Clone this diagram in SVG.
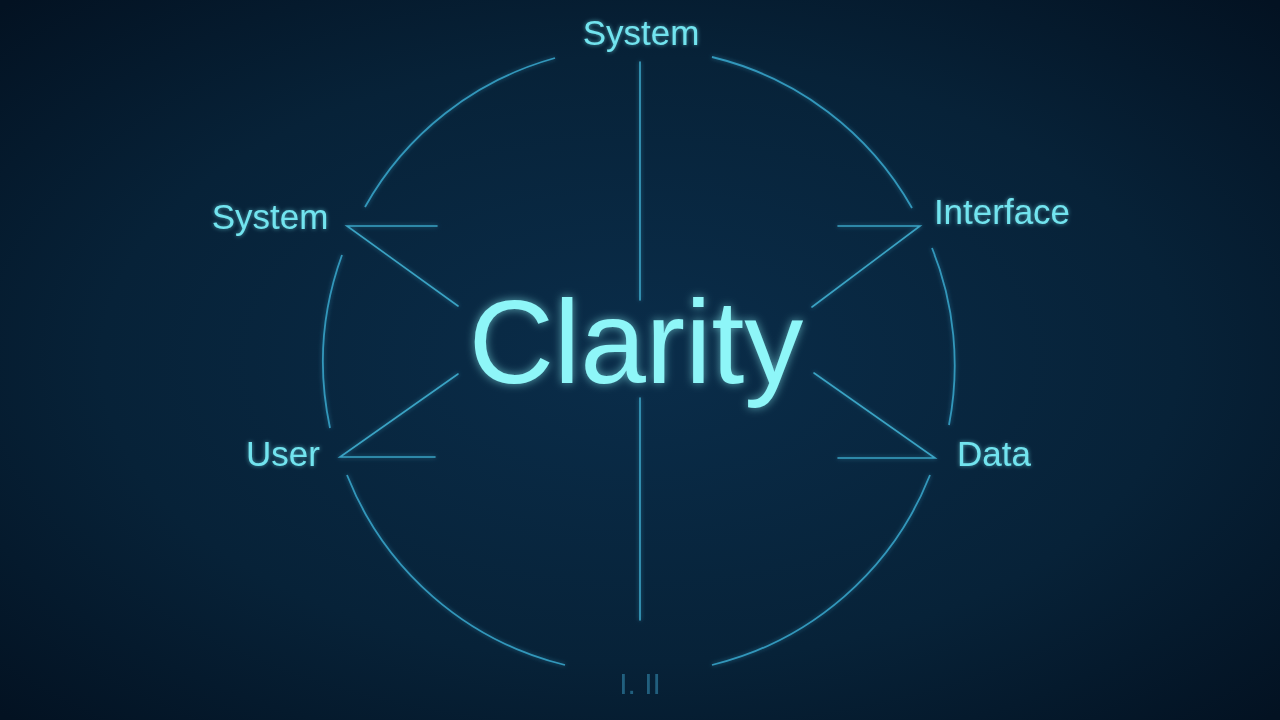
<svg xmlns="http://www.w3.org/2000/svg" width="1280" height="720" viewBox="0 0 1280 720">
<defs>
<radialGradient id="bg" cx="50%" cy="50%" r="70%">
<stop offset="0" stop-color="#0a2d4a"/>
<stop offset="0.6" stop-color="#072238"/>
<stop offset="1" stop-color="#031222"/>
</radialGradient>
<filter id="glow" x="-20%" y="-40%" width="140%" height="180%">
<feGaussianBlur in="SourceGraphic" stdDeviation="5" result="b"/>
<feComponentTransfer in="b" result="b2"><feFuncA type="linear" slope="0.6"/></feComponentTransfer>
<feMerge><feMergeNode in="b2"/><feMergeNode in="SourceGraphic"/></feMerge>
</filter>
<filter id="glowS" x="-20%" y="-40%" width="140%" height="180%">
<feGaussianBlur in="SourceGraphic" stdDeviation="2" result="b"/>
<feComponentTransfer in="b" result="b2"><feFuncA type="linear" slope="0.6"/></feComponentTransfer>
<feMerge><feMergeNode in="b2"/><feMergeNode in="SourceGraphic"/></feMerge>
</filter>
</defs>
<style>
.ln{stroke:#3aa3c4;stroke-width:1.6;fill:none;stroke-linecap:round}
.arc{stroke:#3397bb;stroke-width:1.8;fill:none}
.lbl{font-family:"Liberation Sans",Arial,sans-serif;font-size:35px;fill:#72e4ef}
.main{font-family:"Liberation Sans",Arial,sans-serif;font-size:118px;fill:#8ef6f8}
</style>
<rect width="1280" height="720" fill="url(#bg)"/>
<g id="connectors" filter="url(#glowS)">
<path class="arc" d="M555,58 A314,314 0 0 0 365,207"/>
<path class="arc" d="M342,255 A314,314 0 0 0 330,428"/>
<path class="arc" d="M347,475 A314,314 0 0 0 565,665"/>
<path class="arc" d="M712,57 A314,314 0 0 1 912,208"/>
<path class="arc" d="M932,248 A314,314 0 0 1 949,425"/>
<path class="arc" d="M930,475 A314,314 0 0 1 712,665"/>
<line class="ln" x1="640" y1="62" x2="640" y2="300"/>
<line class="ln" x1="640" y1="398" x2="640" y2="620"/>
<polyline class="ln" points="437,226 347,226 458,306"/>
<polyline class="ln" points="435,457 340,457 458,374"/>
<polyline class="ln" points="838,226 920,226 812,307"/>
<polyline class="ln" points="838,458 935,458 814,373"/>
</g>
<g id="node-system-top" filter="url(#glowS)"><text class="lbl" x="641" y="45" text-anchor="middle">System</text></g>
<g id="node-system-left" filter="url(#glowS)"><text class="lbl" x="270" y="229" text-anchor="middle">System</text></g>
<g id="node-interface" filter="url(#glowS)"><text class="lbl" x="1002" y="224" text-anchor="middle">Interface</text></g>
<g id="node-user" filter="url(#glowS)"><text class="lbl" x="283" y="466" text-anchor="middle">User</text></g>
<g id="node-data" filter="url(#glowS)"><text class="lbl" x="994" y="466" text-anchor="middle">Data</text></g>
<g id="node-clarity" filter="url(#glow)"><text class="main" x="636" y="383" text-anchor="middle">Clarity</text></g>
<g id="node-bottom"><text x="640" y="694" text-anchor="middle" font-family="Liberation Sans Narrow,Liberation Sans,sans-serif" font-size="30" fill="#2a7597" opacity="0.75">I. II</text></g>
</svg>
